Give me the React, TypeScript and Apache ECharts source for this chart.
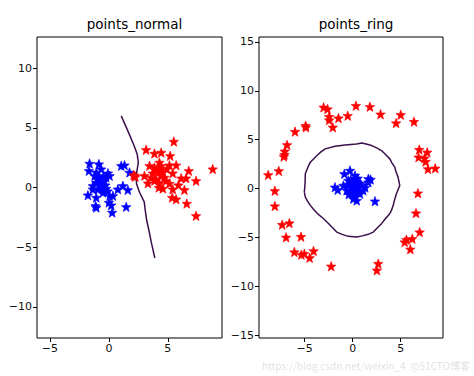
import React, { useEffect, useRef } from "react";
import * as echarts from "echarts";

// ---------- data ----------
const normalBlue: number[][] = [
  [-1.64, 2.01], [-0.85, 1.96], [-1.69, 1.4], [-1.07, 1.26], [-1.21, 0.98], [-0.79, 0.84],
  [-0.08, 1.2], [0.06, 0.98], [-0.37, 0.56], [-1.07, 0.42], [-1.36, 0.14], [-0.65, 0.28],
  [-0.93, -0.14], [-1.36, -0.14], [-0.23, -0.08], [-0.51, -0.42], [-1.78, -0.64], [-1.07, -0.84],
  [0.06, -0.7], [0.34, -0.7], [0.0, -1.26], [0.2, -1.48], [-1.13, -1.54], [-1.07, -1.68],
  [0.28, -2.09], [1.47, -1.62], [0.76, -0.14], [1.19, 0.14], [1.61, -0.2], [1.05, 1.82],
  [1.33, 1.87], [1.75, 1.26], [-0.45, 0.98], [-0.65, 1.54], [-0.23, 0.84], [-0.79, 0.42],
  [-0.3, 0.2], [-1.0, 0.7], [-0.6, -0.1], [-0.1, -0.3],
];
const normalRed: number[][] = [
  [5.51, 3.85], [3.16, 3.16], [3.87, 2.85], [4.44, 2.93], [5.2, 2.65], [3.45, 1.82],
  [4.29, 2.1], [3.87, 1.68], [4.44, 1.82], [5.14, 1.87], [5.71, 1.87], [6.78, 1.4],
  [8.81, 1.54], [3.02, 0.98], [3.73, 1.2], [4.15, 1.31], [4.58, 1.26], [5.42, 1.2],
  [4.01, 0.7], [4.72, 0.84], [6.13, 0.78], [6.55, 0.78], [3.31, 0.36], [3.87, 0.56],
  [5.14, 0.34], [5.9, 0.2], [7.4, 0.56], [4.24, 0.0], [4.58, -0.08], [5.42, -0.14],
  [6.41, -0.2], [5.37, -0.84], [5.71, -0.98], [6.61, -1.34], [7.4, -2.37], [4.92, 1.54],
  [4.44, 0.98], [3.59, 0.84], [4.86, 0.56], [4.29, 0.36], [2.18, 0.98], [2.1, 1.05],
  [2.25, 0.9], [4.1, 1.5], [4.4, 1.6],
];
const normalBoundary: number[][] = [
  [1.05, 6.0], [1.45, 5.1], [1.8, 4.3], [2.1, 3.6], [2.4, 2.8], [2.5, 2.1], [2.4, 1.5],
  [2.3, 0.9], [2.35, 0.3], [2.6, -0.4], [3.0, -1.2], [3.1, -2.0], [3.2, -2.7], [3.4, -3.6],
  [3.6, -4.6], [3.9, -5.9],
];

const ringBlue: number[][] = [
  [-1.84, 0.13], [-1.56, -0.14], [-0.87, 1.5], [-0.28, 1.84], [0.24, 1.33], [0.52, 1.05],
  [1.63, 0.99], [1.63, 0.65], [-0.45, 0.82], [-0.1, 0.31], [0.42, -0.03], [0.76, -0.55],
  [0.07, -1.06], [0.42, -1.23], [2.32, -1.3], [-0.63, -0.2], [-0.28, -0.37], [0.93, 0.31],
  [1.1, -0.2], [-0.97, 0.31], [0.1, 0.5], [0.3, 0.2], [-0.2, 0.9], [0.6, -0.3], [0.2, -0.8],
  [-0.5, 0.4], [0.8, 0.5], [0.0, -0.5], [-0.4, -0.6], [1.3, 0.1], [0.3, 1.0], [-0.1, 0.0],
  [0.5, 0.6], [0.15, -0.3], [1.86, 0.92],
];
const ringRed: number[][] = [
  [-3.03, 8.3], [-2.62, 8.13], [-2.45, 7.35], [-2.45, 7.0], [-1.48, 7.2], [-2.07, 6.26],
  [-0.52, 7.45], [0.34, 8.47], [1.79, 8.37], [2.9, 7.6], [4.52, 6.7], [5.0, 7.55],
  [6.38, 6.84], [-4.9, 6.43], [-4.86, 6.26], [-6.0, 5.82], [-6.83, 4.46], [-7.07, 3.81],
  [-7.1, 3.47], [-7.17, 3.27], [-7.69, 1.8], [-8.79, 1.39], [-8.1, -0.24], [-8.1, -1.8],
  [-7.34, -3.7], [-6.59, -3.54], [-6.93, -5.0], [-5.38, -4.93], [-6.07, -6.5], [-5.34, -6.77],
  [-5.03, -6.67], [-4.48, -7.1], [-4.07, -6.39], [-2.24, -7.96], [2.66, -7.69], [2.52, -8.37],
  [6.93, 3.98], [7.76, 3.7], [6.86, 3.2], [7.48, 3.1], [7.59, 2.75], [7.83, 2.0],
  [8.59, 2.07], [6.79, -0.48], [6.59, -2.52], [6.97, -4.46], [6.2, -5.14], [5.59, -5.24],
  [5.41, -5.48], [6.0, -6.22],
];
const ringBoundary: number[][] = [
  [-5.03, -0.37], [-4.95, 0.6], [-4.93, 1.5], [-4.65, 2.2], [-4.41, 2.69], [-3.72, 3.37],
  [-3.3, 3.75], [-2.86, 4.05], [-1.83, 4.32], [-0.79, 4.46], [0.41, 4.56], [0.93, 4.66],
  [1.4, 4.55], [1.97, 4.39], [2.5, 4.15], [3.0, 3.88], [3.5, 3.4], [3.86, 3.03],
  [4.1, 2.6], [4.38, 2.18], [4.55, 1.6], [4.72, 1.16], [4.9, 0.31], [4.55, -0.54],
  [4.35, -1.2], [4.2, -1.8], [4.03, -2.24], [3.86, -2.59], [3.4, -3.1], [3.0, -3.6],
  [2.5, -4.1], [2.14, -4.46], [1.62, -4.69], [1.0, -4.85], [0.41, -4.97], [-0.45, -4.9],
  [-1.1, -4.7], [-1.66, -4.46], [-2.17, -3.95], [-2.6, -3.5], [-3.03, -3.1], [-3.72, -2.52],
  [-4.1, -2.1], [-4.41, -1.73], [-4.7, -1.3], [-4.93, -0.88], [-5.03, -0.37],
];

const normalXTicks = [-5, 0, 5];
const normalYTicks = [-10, -5, 0, 5, 10];
const ringXTicks = [-5, 0, 5];
const ringYTicks = [-15, -10, -5, 0, 5, 10, 15];

// ---------- star symbol ----------
function starPath(): string {
  const pts: string[] = [];
  for (let i = 0; i < 10; i++) {
    const r = i % 2 === 0 ? 10 : 4.2;
    const a = -Math.PI / 2 + (i * Math.PI) / 5;
    pts.push(`${(10 + r * Math.cos(a)).toFixed(3)},${(10 + r * Math.sin(a)).toFixed(3)}`);
  }
  return "path://M" + pts.join("L") + "Z";
}

const FONT = "DejaVu Sans";
const minusFmt = (v: number) => String(v).replace("-", "\u2212");

function makeAxes(idx: number, xr: number[], yr: number[], xt: number[], yt: number[]) {
  const common = {
    gridIndex: idx,
    type: "value" as const,
    splitLine: { show: false },
    axisLine: { show: false, onZero: false },
    axisTick: { show: true, inside: false, length: 4, lineStyle: { color: "#000", width: 1 } },
    axisLabel: { color: "#111", fontSize: 11, fontFamily: FONT, margin: 5, formatter: minusFmt },
  };
  const x = {
    ...common,
    min: xr[0],
    max: xr[1],
    axisTick: { ...common.axisTick, customValues: xt },
    axisLabel: { ...common.axisLabel, customValues: xt },
  };
  const y = {
    ...common,
    min: yr[0],
    max: yr[1],
    axisTick: { ...common.axisTick, customValues: yt },
    axisLabel: { ...common.axisLabel, customValues: yt },
  };
  return { x, y };
}

export default function App() {
  const ref = useRef<HTMLDivElement>(null);
  useEffect(() => {
    if (!ref.current) return;
    const chart = echarts.init(ref.current, null, { renderer: "svg" });
    const star = starPath();
    const a0 = makeAxes(0, [-6.1, 9.6], [-12.6, 12.6], normalXTicks, normalYTicks);
    const a1 = makeAxes(1, [-9.75, 9.4], [-15.3, 15.5], ringXTicks, ringYTicks);
    const scatter = (data: number[][], color: string, idx: number) => ({
      type: "scatter",
      xAxisIndex: idx,
      yAxisIndex: idx,
      data,
      symbol: star,
      symbolSize: 9.5,
      itemStyle: { color, opacity: 1, borderColor: color, borderWidth: 0.6 },
      z: 3,
    });
    const line = (data: number[][], idx: number) => ({
      type: "line",
      xAxisIndex: idx,
      yAxisIndex: idx,
      data,
      showSymbol: false,
      symbol: "none",
      smooth: false,
      lineStyle: { color: "#3a0f4c", width: 1.5 },
      z: 2,
    });
    chart.setOption({
      animation: false,
      backgroundColor: "#fff",
      title: [
        {
          text: "points_normal",
          left: 129.5,
          top: 12,
          textAlign: "center",
          textStyle: { fontFamily: FONT, fontSize: 13.5, fontWeight: "normal", color: "#000" },
        },
        {
          text: "points_ring",
          left: 351,
          top: 12,
          textAlign: "center",
          textStyle: { fontFamily: FONT, fontSize: 13.5, fontWeight: "normal", color: "#000" },
        },
      ],
      grid: [
        { left: 37, top: 37, width: 185, height: 301, show: true, borderColor: "#000", borderWidth: 1, backgroundColor: "#fff" },
        { left: 259, top: 37, width: 184, height: 301, show: true, borderColor: "#000", borderWidth: 1, backgroundColor: "#fff" },
      ],
      xAxis: [a0.x, a1.x],
      yAxis: [a0.y, a1.y],
      series: [
        line(normalBoundary, 0),
        scatter(normalBlue, "#0000ff", 0),
        scatter(normalRed, "#ff0000", 0),
        line(ringBoundary, 1),
        scatter(ringBlue, "#0000ff", 1),
        scatter(ringRed, "#ff0000", 1),
      ],
      graphic: [
        {
          type: "text",
          right: 4,
          top: 360,
          style: {
            text: "https://blog.csdn.net/weixin_4  @51CTO博客",
            fill: "rgba(150,150,150,0.3)",
            fontSize: 10,
            fontFamily: "Noto Sans CJK SC",
          },
        },
      ],
    });
    return () => chart.dispose();
  }, []);
  return (
    <div
      ref={ref}
      style={{ position: "fixed", left: 0, top: 0, width: 474, height: 376 }}
    />
  );
}
